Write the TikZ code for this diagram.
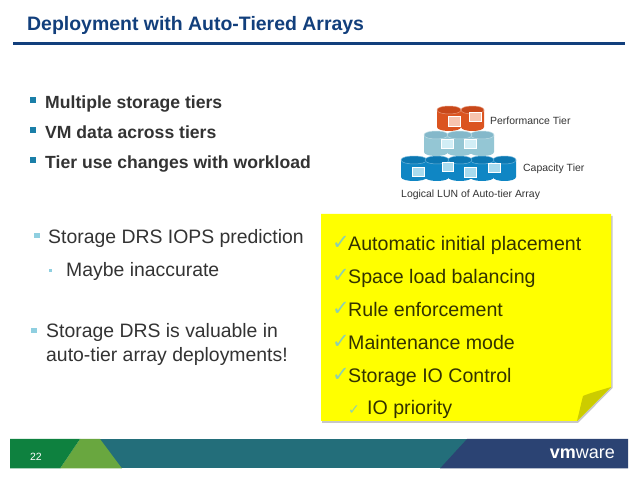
\documentclass[tikz,border=0pt]{standalone}
\usepackage{fontspec}
\setmainfont{Liberation Sans}
\newfontfamily\symfont{DejaVu Sans}
\definecolor{titleblue}{HTML}{123F7C}
\definecolor{bodytext}{HTML}{333333}
\definecolor{bulletdark}{HTML}{1A7FA8}
\definecolor{bulletlight}{HTML}{8FCFE0}
\definecolor{checkcol}{HTML}{8CCFB4}
\definecolor{notefill}{HTML}{FFFF00}
\definecolor{notetextcol}{HTML}{333300}
\definecolor{notefold}{HTML}{CCCC00}
\definecolor{orangeside}{HTML}{DB5420}
\definecolor{orangetop}{HTML}{C8481A}
\definecolor{midside}{HTML}{94C6D4}
\definecolor{midtop}{HTML}{84B8CA}
\definecolor{lowside}{HTML}{0F86C4}
\definecolor{lowtop}{HTML}{0C78B2}
\definecolor{blockorange}{HTML}{F7C4AE}
\definecolor{blockmid}{HTML}{D2EEF6}
\definecolor{blocklow}{HTML}{A9DBEE}
\definecolor{ftdark}{HTML}{0E813F}
\definecolor{ftlight}{HTML}{69A73F}
\definecolor{ftteal}{HTML}{236E7A}
\definecolor{ftnavy}{HTML}{2B4373}
\tikzset{
  x=1pt,y=-1pt,
  titletext/.style={anchor=base west,inner sep=0pt,text=titleblue,font=\fontsize{19.45}{22}\selectfont\bfseries},
  boldtext/.style={anchor=base west,inner sep=0pt,text=bodytext,font=\fontsize{17.6}{20}\selectfont\bfseries},
  bodyline/.style={anchor=base west,inner sep=0pt,text=bodytext,font=\fontsize{19.4}{24}\selectfont},
  notetext/.style={anchor=base west,inner sep=0pt,text=notetextcol,font=\fontsize{19.6}{24}\selectfont},
  smalltext/.style={anchor=base west,inner sep=0pt,text=bodytext,font=\fontsize{10.45}{13}\selectfont},
  checkmark/.style={anchor=base west,inner sep=0pt,text=checkcol,font=\symfont\fontsize{21}{24}\selectfont},
  darkbullet/.style={fill=bulletdark,draw=none},
  lightbullet/.style={fill=bulletlight,draw=none},
  datablock/.style={draw=white,line width=0.4pt,fill=#1},
}
% cylinder: left x, right x, top y, bottom y, side colour, top colour
\newcommand{\drum}[6]{%
  \fill[#5] (#1,#3+4) -- (#1,#4-4) .. controls (#1,#4+1.3) and (#2,#4+1.3) .. (#2,#4-4) -- (#2,#3+4) -- cycle;
  \fill[#6] (#1,#3+4) .. controls (#1,#3-1.3) and (#2,#3-1.3) .. (#2,#3+4) .. controls (#2,#3+9.3) and (#1,#3+9.3) .. (#1,#3+4) -- cycle;
  \draw[#5!60!white,line width=0.5pt] (#1,#3+4) .. controls (#1,#3-1.3) and (#2,#3-1.3) .. (#2,#3+4) .. controls (#2,#3+9.3) and (#1,#3+9.3) .. (#1,#3+4) -- cycle;
}
\begin{document}
\begin{tikzpicture}
\useasboundingbox (0,0) rectangle (638,478);
\fill[white] (0,0) rectangle (638,478);
% title
\node[titletext] (title) at (27,31) {Deployment with Auto-Tiered Arrays};
\coordinate (ruleL) at (13,44);
\coordinate (ruleR) at (625,44);
\draw[titleblue,line width=3pt] (ruleL) -- (ruleR);
% top bullets
\fill[darkbullet] (30,97) rectangle (36,103);
\fill[darkbullet] (30,127) rectangle (36,133);
\fill[darkbullet] (30,157) rectangle (36,163);
\node[boldtext] (b1) at (45,108.7) {Multiple storage tiers};
\node[boldtext] (b2) at (45,138.7) {VM data across tiers};
\node[boldtext] (b3) at (45,168.7) {Tier use changes with workload};
% left bullets
\fill[lightbullet] (34,233) rectangle (40,238.5);
\fill[lightbullet] (49,269.5) rectangle (52,272.5);
\fill[lightbullet] (31,328) rectangle (37,333.5);
\node[bodyline] (l1) at (48,244) {Storage DRS IOPS prediction};
\node[bodyline] (l2) at (66,277) {Maybe inaccurate};
\node[bodyline] (l3) at (46,338) {Storage DRS is valuable in};
\node[bodyline] (l4) at (46,362) {auto-tier array deployments!};
% cylinders, bottom tier
\drum{401}{427}{156}{181}{lowside}{lowtop}
\drum{493}{516}{156}{181}{lowside}{lowtop}
\drum{425}{449}{156}{181}{lowside}{lowtop}
\drum{470}{494}{156}{181}{lowside}{lowtop}
\drum{448}{472}{156}{181}{lowside}{lowtop}
% middle tier
\drum{424}{448}{131}{156}{midside}{midtop}
\drum{470}{494}{131}{156}{midside}{midtop}
\drum{447}{472}{131}{156}{midside}{midtop}
% top tier
\drum{437}{461}{106}{131}{orangeside}{orangetop}
\drum{461}{484}{106}{131}{orangeside}{orangetop}
% data blocks
\draw[datablock=blockorange] (448,116) rectangle (460,126);
\draw[datablock=blockorange] (469,112) rectangle (481,121);
\draw[datablock=blockmid] (441,139) rectangle (453,148);
\draw[datablock=blockmid] (464,139) rectangle (476,148);
\draw[datablock=blocklow] (412,167) rectangle (424,176);
\draw[datablock=blocklow] (442,162) rectangle (453,171);
\draw[datablock=blocklow] (464,167) rectangle (476,177);
\draw[datablock=blocklow] (488,163) rectangle (500,172);
\node[smalltext] (perf) at (490,124.5) {Performance Tier};
\node[smalltext] (cap) at (523,171.5) {Capacity Tier};
\node[smalltext] (lun) at (401,197.5) {Logical LUN of Auto-tier Array};
% note
\fill[black!22] (322,216) -- (612.5,216) -- (612.5,388) -- (578,423) -- (322,423) -- cycle;
\fill[notefill] (321,214) -- (611,214) -- (611,387) -- (577,421) -- (321,421) -- cycle;
\fill[notefold] (611,387) .. controls (598,391) and (590,393) .. (583,396) .. controls (581,404) and (579,413) .. (577,421) -- cycle;
\node[checkmark] (c1) at (332,250) {✓};
\node[checkmark] (c2) at (332,283) {✓};
\node[checkmark] (c3) at (332,316) {✓};
\node[checkmark] (c4) at (332,349) {✓};
\node[checkmark] (c5) at (332,382) {✓};
\node[checkmark,font=\symfont\fontsize{14}{16}\selectfont] (c6) at (348,414.5) {✓};
\node[notetext] (n1) at (348,250.5) {Automatic initial placement};
\node[notetext] (n2) at (348,283.5) {Space load balancing};
\node[notetext] (n3) at (348,316.5) {Rule enforcement};
\node[notetext] (n4) at (348,349.5) {Maintenance mode};
\node[notetext] (n5) at (348,382.5) {Storage IO Control};
\node[notetext] (n6) at (367,415) {IO priority};
% footer
\fill[ftteal] (100,439) rectangle (467,468.5);
\fill[ftnavy] (467,439) -- (628,439) -- (628,468.5) -- (440,468.5) -- cycle;
\fill[ftlight] (80,439) -- (100,439) -- (122,468.5) -- (60,468.5) -- cycle;
\fill[ftdark] (10,439) -- (80,439) -- (60,468.5) -- (10,468.5) -- cycle;
\node[anchor=base,inner sep=0pt,text=white,font=\fontsize{10.5}{12}\selectfont] (page) at (36,460.5) {22};
\node[anchor=base east,inner sep=0pt,text=white,font=\fontsize{18}{20}\selectfont] (logo) at (615,459) {\textbf{vm}ware};
\end{tikzpicture}
\end{document}
